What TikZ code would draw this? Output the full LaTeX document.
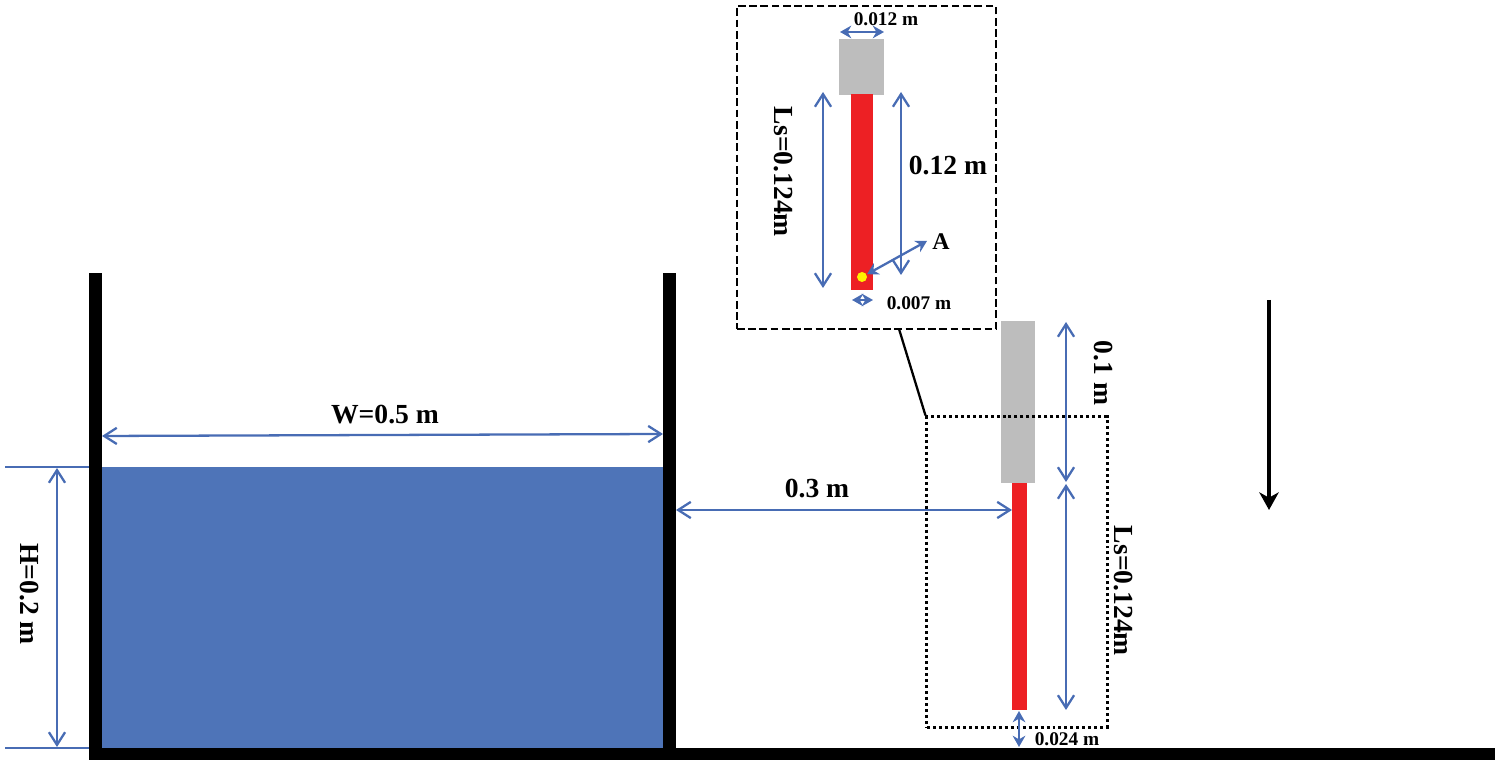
\documentclass[tikz,border=0pt]{standalone}
\usepackage{fontspec}
\setmainfont{Liberation Serif}
\usetikzlibrary{arrows.meta}
\definecolor{dimblue}{RGB}{72,108,180}
\definecolor{waterblue}{RGB}{78,116,184}
\definecolor{rodred}{RGB}{237,32,36}
\definecolor{rodgrey}{RGB}{189,189,189}
\tikzset{
	dimline/.style={draw=dimblue, line width=0.65pt, {Straight Barb[length=3.6pt,width=4.6pt,line width=0.65pt]}-{Straight Barb[length=3.6pt,width=4.6pt,line width=0.65pt]}},
	smalldim/.style={draw=dimblue, line width=0.65pt, {Stealth[length=3.2pt,width=3.6pt]}-{Stealth[length=3.2pt,width=3.6pt]}},
	label/.style={font=\bfseries\fontsize{7.85pt}{9pt}\selectfont, inner sep=0pt},
	smalllabel/.style={font=\bfseries\fontsize{5.5pt}{6pt}\selectfont, inner sep=0pt},
}
\begin{document}
\begin{tikzpicture}[x=0.01cm,y=-0.01cm]
			\useasboundingbox (0,0) rectangle (1500,765);
			% tank
			\fill[waterblue] (102,467) rectangle (663,748);
			\fill[black] (89,273) rectangle (102,760);
			\fill[black] (663,273) rectangle (676,750);
			\fill[black] (89,748) rectangle (1495,760);
			% rod
			\fill[rodgrey] (1001,321) rectangle (1035,483);
			\fill[rodred] (1012,483) rectangle (1027,710);
			% zoomed rod
			\fill[rodgrey] (839,39) rectangle (884,95);
			\fill[rodred] (851,94) rectangle (873,290);
			\node[shape=circle, fill=yellow, inner sep=0pt, minimum size=0.1cm] (pointA) at (862,277) {};
			% boxes
			\node[draw=black, dash pattern=on 2.2pt off 1pt, line width=0.75pt, minimum width=2.59cm, minimum height=3.23cm, inner sep=0pt] (inset) at (866.5,167.5) {};
			\node[draw=black, dash pattern=on 0.85pt off 0.85pt, line width=0.85pt, minimum width=1.8cm, minimum height=3.1cm, inner sep=0pt] (dotbox) at (1017,572) {};
			\coordinate (insetfoot) at (899,329);
			\draw[line width=0.65pt] (insetfoot) -- (dotbox.north west);
			% water level ticks
			\coordinate (hleft) at (5,467);
			\coordinate (hright) at (89,467);
			\coordinate (bleft) at (5,748);
			\coordinate (bright) at (89,748);
			\draw[dimblue, line width=0.5pt] (hleft) -- (hright);
			\draw[dimblue, line width=0.5pt] (bleft) -- (bright);
			% dimensions
			\coordinate (ha) at (57,468);
			\coordinate (hb) at (57,747);
			\coordinate (wa) at (102,436);
			\coordinate (wb) at (663,434);
			\coordinate (ga) at (676,510);
			\coordinate (gb) at (1012,510);
			\coordinate (ta) at (1066,322);
			\coordinate (tb) at (1066,482);
			\coordinate (la) at (1066,484);
			\coordinate (lb) at (1066,710);
			\coordinate (fa) at (1019,711);
			\coordinate (fb) at (1019,747);
			\coordinate (zla) at (823,92);
			\coordinate (zlb) at (823,288);
			\coordinate (zra) at (901,92);
			\coordinate (zrb) at (901,275);
			\coordinate (zta) at (840,32);
			\coordinate (ztb) at (884,32);
			\coordinate (zba) at (852,300);
			\coordinate (zbb) at (873,300);
			\draw[dimline] (ha) -- (hb);
			\draw[dimline] (wa) -- (wb);
			\draw[dimline] (ga) -- (gb);
			\draw[dimline] (ta) -- (tb);
			\draw[dimline] (la) -- (lb);
			\draw[dimline] (zla) -- (zlb);
			\draw[dimline] (zra) -- (zrb);
			\draw[smalldim] (fa) -- (fb);
			\draw[smalldim] (zta) -- (ztb);
			\draw[smalldim] (zba) -- (zbb);
			% labels
			\node[label, rotate=-90] (hlabel) at (29,594) {H=0.2 m};
			\node[label] (wlabel) at (385,415) {W=0.5 m};
			\node[label] (glabel) at (817,489) {0.3 m};
			\node[label, rotate=-90] (tlabel) at (1103,373) {0.1 m};
			\node[label, rotate=-90] (llabel) at (1123,591) {Ls=0.124m};
			\node[smalllabel] (flabel) at (1067,739) {0.024 m};
			\node[label, rotate=-90] (zllabel) at (783,172) {Ls=0.124m};
			\node[label] (zrlabel) at (948,166) {0.12 m};
			\node[smalllabel] (ztlabel) at (886,19) {0.012 m};
			\node[smalllabel] (zblabel) at (919,303) {0.007 m};
			\node[smalllabel, font=\bfseries\fontsize{6.8pt}{7pt}\selectfont] (alabel) at (941,242) {A};
			\coordinate (aend) at (927,241);
			\draw[smalldim] (pointA) -- (aend);
			% gravity
			\coordinate (ga1) at (1269,300);
			\coordinate (ga2) at (1269,510);
			\draw[-{Stealth[length=5pt,width=5.5pt,inset=1.5pt]}, line width=1pt] (ga1) -- (ga2);
		\end{tikzpicture}
\end{document}
